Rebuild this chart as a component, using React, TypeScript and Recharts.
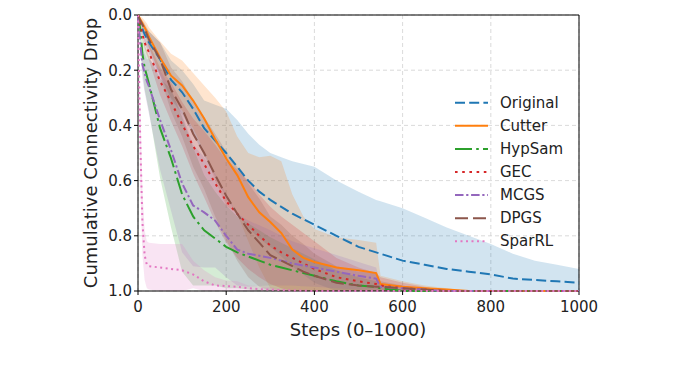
import {
  ComposedChart,
  Line,
  Area,
  XAxis,
  YAxis,
  CartesianGrid,
  ReferenceArea,
} from "recharts";

// ─── Data ───────────────────────────────────────────────────────────

const STEPS = [
  0, 5, 10, 15, 20, 25, 50, 75, 100, 125, 150, 175, 200, 225, 250, 275, 300,
  325, 350, 375, 400, 450, 500, 540, 550, 600, 650, 700, 750, 800, 850, 900,
  950, 1000,
];

const X_TICKS = [0, 200, 400, 600, 800, 1000];
const Y_TICKS = [0, 0.2, 0.4, 0.6, 0.8, 1.0];

const ORIGINAL = [
  0, 0.03, 0.05, 0.07, 0.085, 0.1, 0.16, 0.235, 0.28, 0.34, 0.41, 0.455, 0.5,
  0.55, 0.6, 0.64, 0.67, 0.695, 0.72, 0.74, 0.76, 0.8, 0.84, 0.86, 0.865, 0.89,
  0.905, 0.92, 0.93, 0.94, 0.955, 0.96, 0.965, 0.97,
];
const ORIGINAL_STD = [
  0, 0.01, 0.02, 0.03, 0.035, 0.04, 0.06, 0.07, 0.08, 0.09, 0.1, 0.13, 0.16,
  0.17, 0.17, 0.17, 0.17, 0.18, 0.19, 0.2, 0.21, 0.2, 0.2, 0.19, 0.19, 0.19,
  0.17, 0.15, 0.13, 0.11, 0.09, 0.07, 0.06, 0.05,
];

const CUTTER = [
  0, 0.015, 0.03, 0.045, 0.06, 0.08, 0.155, 0.22, 0.255, 0.31, 0.375, 0.45,
  0.52, 0.58, 0.66, 0.715, 0.75, 0.79, 0.85, 0.88, 0.895, 0.915, 0.925, 0.935,
  0.975, 0.985, 0.99, 0.995, 1, 1, 1, 1, 1, 1,
];
const CUTTER_STD = [
  0, 0.01, 0.02, 0.025, 0.03, 0.035, 0.06, 0.08, 0.09, 0.1, 0.12, 0.15, 0.17,
  0.14, 0.16, 0.2, 0.24, 0.26, 0.2, 0.15, 0.12, 0.11, 0.11, 0.11, 0.03, 0.02,
  0.01, 0.005, 0, 0, 0, 0, 0, 0,
];

const HYPSAM = [
  0, 0.05, 0.14, 0.19, 0.22, 0.25, 0.41, 0.52, 0.65, 0.73, 0.78, 0.81, 0.84,
  0.86, 0.875, 0.89, 0.905, 0.915, 0.925, 0.935, 0.945, 0.965, 0.98, 0.985,
  0.99, 1, 1, 1, 1, 1, 1, 1, 1, 1,
];
const HYPSAM_STD = [
  0, 0.03, 0.06, 0.08, 0.09, 0.1, 0.18, 0.25, 0.28, 0.25, 0.2, 0.17, 0.15,
  0.13, 0.12, 0.11, 0.1, 0.09, 0.08, 0.07, 0.06, 0.04, 0.03, 0.02, 0.02, 0, 0,
  0, 0, 0, 0, 0, 0, 0,
];

const GEC = [
  0, 0.035, 0.07, 0.1, 0.12, 0.135, 0.24, 0.315, 0.395, 0.475, 0.54, 0.61,
  0.675, 0.72, 0.76, 0.8, 0.835, 0.86, 0.88, 0.9, 0.92, 0.95, 0.965, 0.975,
  0.98, 0.99, 0.995, 1, 1, 1, 1, 1, 1, 1,
];
const GEC_STD = [
  0, 0.01, 0.015, 0.02, 0.025, 0.03, 0.05, 0.07, 0.08, 0.1, 0.12, 0.14, 0.15,
  0.16, 0.16, 0.15, 0.14, 0.13, 0.12, 0.11, 0.1, 0.07, 0.05, 0.04, 0.03, 0.02,
  0.01, 0, 0, 0, 0, 0, 0, 0,
];

const MCGS = [
  0, 0.1, 0.18, 0.21, 0.24, 0.26, 0.38, 0.49, 0.61, 0.69, 0.715, 0.745, 0.8,
  0.85, 0.865, 0.872, 0.88, 0.89, 0.9, 0.908, 0.915, 0.93, 0.945, 0.955, 0.985,
  0.99, 0.995, 1, 1, 1, 1, 1, 1, 1,
];
const MCGS_STD = [
  0, 0.03, 0.05, 0.07, 0.08, 0.1, 0.18, 0.22, 0.25, 0.22, 0.2, 0.17, 0.15, 0.13,
  0.12, 0.11, 0.1, 0.09, 0.08, 0.075, 0.07, 0.06, 0.05, 0.04, 0.01, 0.01, 0, 0,
  0, 0, 0, 0, 0, 0,
];

const DPGS = [
  0, 0.02, 0.035, 0.05, 0.07, 0.09, 0.16, 0.27, 0.34, 0.43, 0.5, 0.58, 0.655,
  0.72, 0.78, 0.825, 0.87, 0.89, 0.91, 0.93, 0.945, 0.97, 0.98, 0.985, 0.985,
  0.99, 0.995, 1, 1, 1, 1, 1, 1, 1,
];
const DPGS_STD = [
  0, 0.01, 0.015, 0.02, 0.025, 0.03, 0.06, 0.08, 0.1, 0.12, 0.13, 0.15, 0.16,
  0.17, 0.17, 0.16, 0.14, 0.13, 0.11, 0.1, 0.08, 0.06, 0.05, 0.05, 0.02, 0.01,
  0, 0, 0, 0, 0, 0, 0, 0,
];

const SPARRL = [
  0, 0.45, 0.75, 0.87, 0.905, 0.91, 0.915, 0.92, 0.925, 0.94, 0.965, 0.98,
  0.982, 0.985, 0.99, 0.993, 0.995, 0.997, 0.998, 0.999, 1, 1, 1, 1, 1, 1, 1,
  1, 1, 1, 1, 1, 1, 1,
];
const SPARRL_STD = [
  0, 0.15, 0.12, 0.09, 0.085, 0.085, 0.085, 0.09, 0.095, 0.05, 0.04, 0.03,
  0.02, 0.02, 0.01, 0.01, 0.01, 0.005, 0, 0, 0, 0, 0, 0, 0, 0, 0, 0, 0, 0, 0,
  0, 0, 0,
];

// ─── Series config ──────────────────────────────────────────────────

const SERIES = [
  { key: "original", name: "Original", color: "#1f77b4", mean: ORIGINAL, std: ORIGINAL_STD, dash: "10 4.2" },
  { key: "cutter", name: "Cutter", color: "#ff7f0e", mean: CUTTER, std: CUTTER_STD, dash: undefined },
  { key: "hypsam", name: "HypSam", color: "#2ca02c", mean: HYPSAM, std: HYPSAM_STD, dash: "17 4.2 2.6 4.2" },
  { key: "gec", name: "GEC", color: "#d62728", mean: GEC, std: GEC_STD, dash: "2.6 4.6" },
  { key: "mcgs", name: "MCGS", color: "#9467bd", mean: MCGS, std: MCGS_STD, dash: "8.5 2.7 2.2 2.7" },
  { key: "dpgs", name: "DPGS", color: "#8c564b", mean: DPGS, std: DPGS_STD, dash: "13 5" },
  { key: "sparrl", name: "SparRL", color: "#e377c2", mean: SPARRL, std: SPARRL_STD, dash: "2 3.5" },
];

const chartData = STEPS.map((step, i) => {
  const row: Record<string, unknown> = { step };
  SERIES.forEach((s) => {
    row[s.key] = s.mean[i];
    row[s.key + "Band"] = [
      Math.max(0, s.mean[i] - s.std[i]),
      Math.min(1, s.mean[i] + s.std[i]),
    ];
  });
  return row;
});

const FONT = "'DejaVu Sans', sans-serif";

// ─── Legend (drawn inside the axes, no frame) ───────────────────────

function InsideLegend() {
  return (
    <svg
      width={130}
      height={165}
      style={{ position: "absolute", left: 450, top: 90, overflow: "visible" }}
    >
      {SERIES.map((s, i) => {
        const y = 12.7 + i * 23.1;
        return (
          <g key={s.key}>
            <line
              x1={5}
              x2={38}
              y1={y}
              y2={y}
              stroke={s.color}
              strokeWidth={2}
              strokeDasharray={s.dash}
            />
            <text
              x={50}
              y={y}
              dominantBaseline="central"
              fontSize={15}
              fontFamily={FONT}
              fill="#222"
            >
              {s.name}
            </text>
          </g>
        );
      })}
    </svg>
  );
}

// ─── Chart ──────────────────────────────────────────────────────────

export default function App() {
  return (
    <div
      style={{
        position: "absolute",
        left: 0,
        top: 0,
        width: 680,
        height: 374,
        background: "#fff",
        fontFamily: FONT,
      }}
    >
      <ComposedChart
        width={680}
        height={374}
        data={chartData}
        margin={{ top: 15, right: 101, bottom: 53, left: 78 }}
      >
        <CartesianGrid stroke="#d0d0d0" strokeDasharray="4 3" strokeWidth={0.8} />
        <XAxis
          dataKey="step"
          type="number"
          domain={[0, 1000]}
          ticks={X_TICKS}
          height={30}
          axisLine={false}
          tickLine={{ stroke: "#000" }}
          tickSize={4}
          tickMargin={6}
          tick={{ fontSize: 15, fill: "#222", fontFamily: FONT }}
          label={{
            content: () => (
              <text
                x={358}
                y={329}
                textAnchor="middle"
                dominantBaseline="central"
                fontSize={18}
                fontFamily={FONT}
                fill="#222"
              >
                Steps (0–1000)
              </text>
            ),
          }}
        />
        <YAxis
          type="number"
          domain={[0, 1]}
          reversed
          ticks={Y_TICKS}
          width={60}
          axisLine={false}
          tickLine={{ stroke: "#000" }}
          tickSize={4}
          tickFormatter={(v: number) => v.toFixed(1)}
          tick={{ fontSize: 15, fill: "#222", fontFamily: FONT }}
          label={{
            content: () => (
              <text
                x={90}
                y={153}
                transform="rotate(-90 90 153)"
                textAnchor="middle"
                dominantBaseline="central"
                fontSize={18}
                fontFamily={FONT}
                fill="#222"
              >
                Cumulative Connectivity Drop
              </text>
            ),
          }}
        />

        {/* Shaded spread bands */}
        {SERIES.map((s) => (
          <Area
            key={s.key + "Band"}
            type="linear"
            dataKey={s.key + "Band"}
            stroke="none"
            fill={s.color}
            fillOpacity={0.2}
            isAnimationActive={false}
            activeDot={false}
            dot={false}
          />
        ))}

        {/* Mean curves */}
        {SERIES.map((s) => (
          <Line
            key={s.key}
            type="linear"
            dataKey={s.key}
            name={s.name}
            stroke={s.color}
            strokeWidth={2}
            strokeDasharray={s.dash}
            dot={false}
            activeDot={false}
            isAnimationActive={false}
          />
        ))}

        {/* Axes frame */}
        <ReferenceArea
          x1={0}
          x2={1000}
          y1={0}
          y2={1}
          fill="none"
          fillOpacity={0}
          stroke="#000"
          strokeWidth={1}
        />
      </ComposedChart>
      <InsideLegend />
    </div>
  );
}
